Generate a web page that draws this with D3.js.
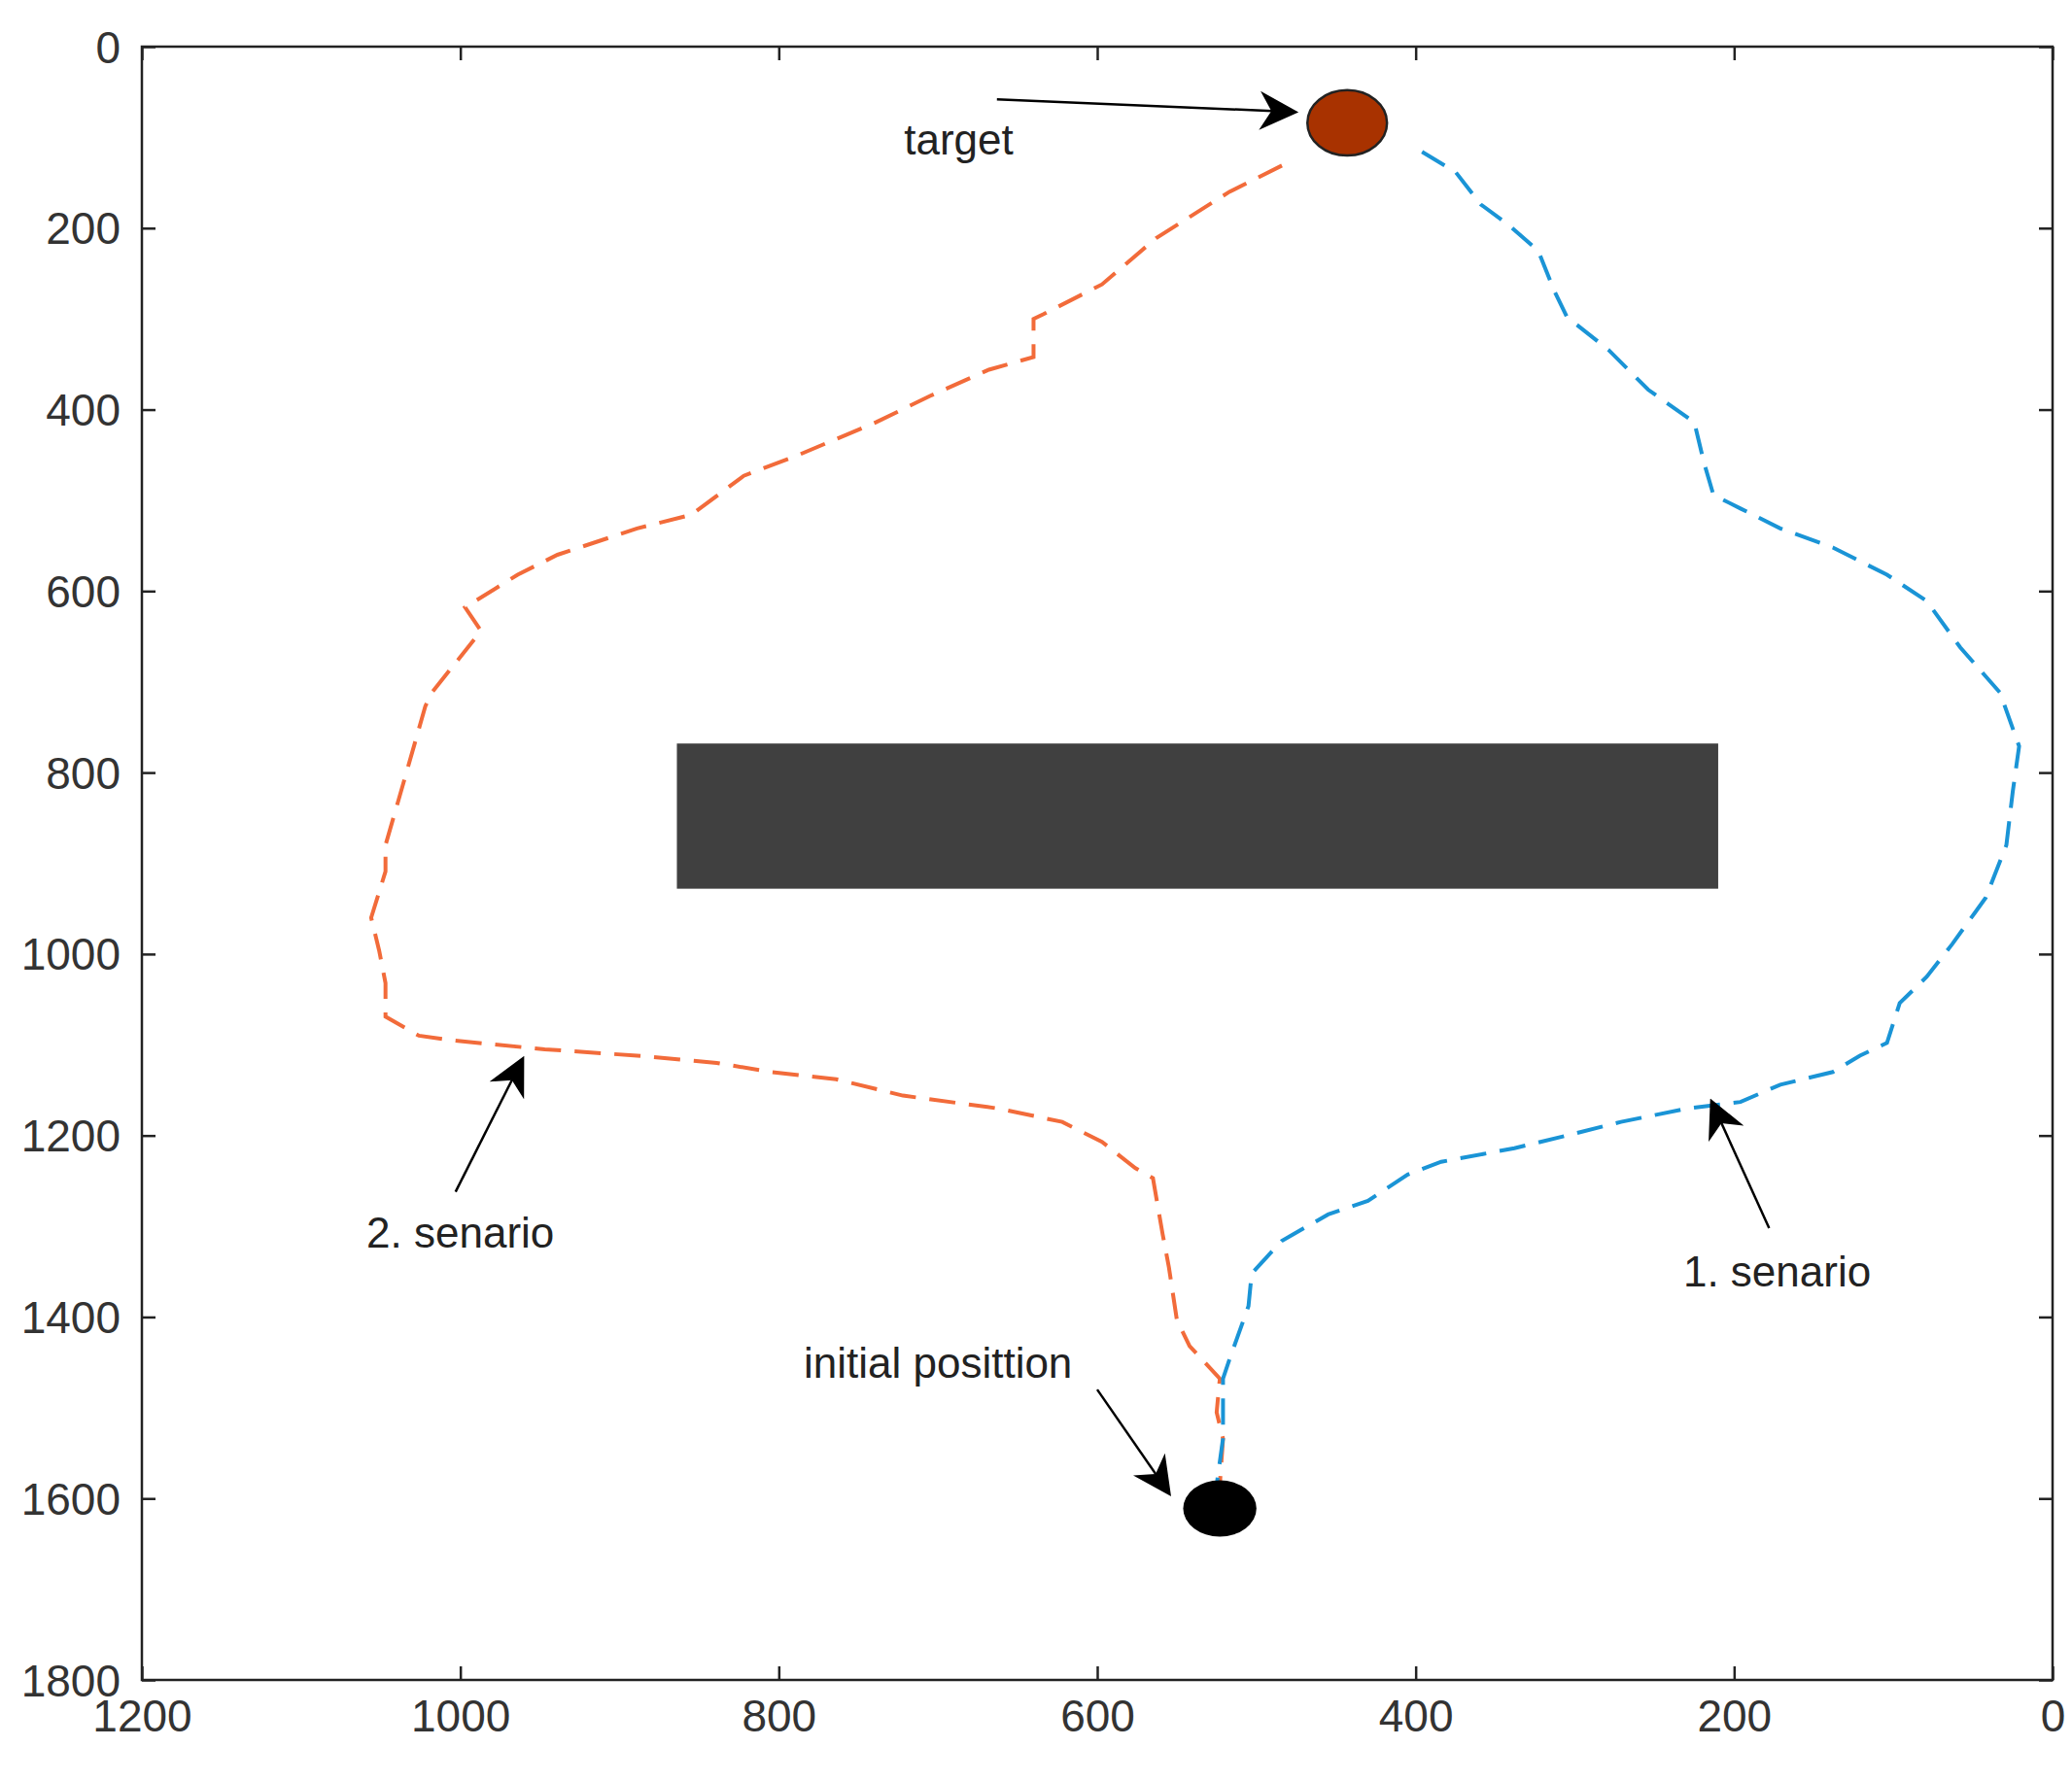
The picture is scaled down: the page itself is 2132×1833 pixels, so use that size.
<!DOCTYPE html><html><head><meta charset="utf-8">
<script src="https://cdn.jsdelivr.net/npm/d3@7"></script>
<style>body{margin:0;background:#fff}</style></head><body>
<svg id="c" width="2132" height="1833"></svg>
<script>
const xTicks=[1200,1000,800,600,400,200,0];
const yTicks=[0,200,400,600,800,1000,1200,1400,1600,1800];
const orangeX=[484,517,563,597,634,640,640,668,705,739,789,822,855,889,939,964,997,987,1018,1022,1035,1047,1047,1056,1051,1047,1047,1026,1006,947,889,839,805,764,722,663,622,597,576,565,559,555,550,542,523,525,521,523];
const orangeY=[131,160,211,262,295,300,342,356,385,414,451,473,516,531,560,582,618,644,712,727,807,880,909,960,996,1032,1069,1090,1095,1105,1112,1120,1130,1138,1156,1170,1185,1207,1236,1247,1308,1345,1403,1432,1468,1505,1534,1585];
const blueX=[396,375,359,342,323,313,305,279,254,225,219,213,196,171,138,104,79,58,33,21,25,29,42,63,79,96,104,121,138,171,196,229,271,305,338,384,405,430,455,484,503,505,517,521,521,525];
const blueY=[116,138,174,196,225,269,298,334,378,414,458,494,509,531,552,582,611,662,712,771,821,880,938,989,1025,1054,1098,1112,1130,1144,1163,1170,1185,1200,1214,1229,1243,1272,1287,1316,1352,1388,1447,1468,1534,1585];
const obstacle=[864,768,210,928];
const target=[443,84,25,36];
const start=[523,1611,23,31];
const labels=["target","initial posittion","2. senario","1. senario"];
const labelX=[687,700,1000,173];
const labelY=[102,1451,1307,1350];
const arrowFrom=[[663,58],[600,1480],[1003,1262],[178,1302]];
const arrowTo=[[476,72],[555,1594],[961,1116],[214,1163]];

const svg=d3.select("#c");
const L=146,R=2112,T=48,B=1729;
const x=d3.scaleLinear().domain([1200,0]).range([L,R]);
const y=d3.scaleLinear().domain([0,1800]).range([T,B]);
const font="Liberation Sans, Arial, sans-serif";
svg.append("defs").append("marker").attr("id","ah").attr("viewBox","0 0 10 10").attr("refX",9).attr("refY",5)
 .attr("markerWidth",12).attr("markerHeight",12).attr("markerUnits","userSpaceOnUse").attr("orient","auto")
 .append("path").attr("d","M0,0L10,5L0,10L3,5Z").attr("fill","#000");
svg.select("marker").attr("markerWidth",40).attr("markerHeight",40);
svg.append("rect").attr("x",L).attr("y",T).attr("width",R-L).attr("height",B-T).attr("fill","none").attr("stroke","#222").attr("stroke-width",2.5);
const gx=svg.append("g").attr("transform",`translate(0,${B})`).call(d3.axisBottom(x).tickValues(xTicks).tickSize(-14).tickPadding(20).tickFormat(d3.format("d")));
const gy=svg.append("g").attr("transform",`translate(${L},0)`).call(d3.axisLeft(y).tickValues(yTicks).tickSize(-14).tickPadding(22).tickFormat(d3.format("d")));
svg.append("g").attr("transform",`translate(0,${T})`).call(d3.axisTop(x).tickValues(xTicks).tickSize(-14).tickFormat(""));
svg.append("g").attr("transform",`translate(${R},0)`).call(d3.axisRight(y).tickValues(yTicks).tickSize(-14).tickFormat(""));
svg.selectAll(".domain").remove();
svg.selectAll(".tick line").attr("stroke","#222").attr("stroke-width",2.5);
svg.selectAll(".tick text").attr("font-family",font).attr("font-size",46).attr("fill","#333");
gy.selectAll(".tick text").attr("dy","0.35em");
svg.append("rect").attr("x",x(obstacle[0])).attr("y",y(obstacle[1])).attr("width",x(obstacle[2])-x(obstacle[0])).attr("height",y(obstacle[3])-y(obstacle[1])).attr("fill","#404040");
const line=d3.line().x(d=>x(d[0])).y(d=>y(d[1]));
svg.append("path").attr("d",line(orangeX.map((v,i)=>[v,orangeY[i]]))).attr("fill","none").attr("stroke","#f26b3a").attr("stroke-width",4).attr("stroke-dasharray","27,14");
svg.append("path").attr("d",line(blueX.map((v,i)=>[v,blueY[i]]))).attr("fill","none").attr("stroke","#1a94d6").attr("stroke-width",4).attr("stroke-dasharray","27,14");
svg.append("ellipse").attr("cx",x(target[0])).attr("cy",y(target[1])).attr("rx",x(target[0]-target[2])-x(target[0])).attr("ry",y(target[3])-y(0)).attr("fill","#a83200").attr("stroke","#222").attr("stroke-width",2.5);
svg.append("ellipse").attr("cx",x(start[0])).attr("cy",y(start[1])).attr("rx",x(start[0]-start[2])-x(start[0])).attr("ry",y(start[3])-y(0)).attr("fill","#000");
arrowFrom.forEach((f,i)=>svg.append("line").attr("x1",x(f[0])).attr("y1",y(f[1])).attr("x2",x(arrowTo[i][0])).attr("y2",y(arrowTo[i][1])).attr("stroke","#000").attr("stroke-width",2.5).attr("marker-end","url(#ah)"));
labels.forEach((t,i)=>svg.append("text").attr("x",x(labelX[i])).attr("y",y(labelY[i])).attr("text-anchor","middle").attr("dy","0.35em").attr("font-family",font).attr("font-size",44).attr("fill","#222").text(t));
</script></body></html>
